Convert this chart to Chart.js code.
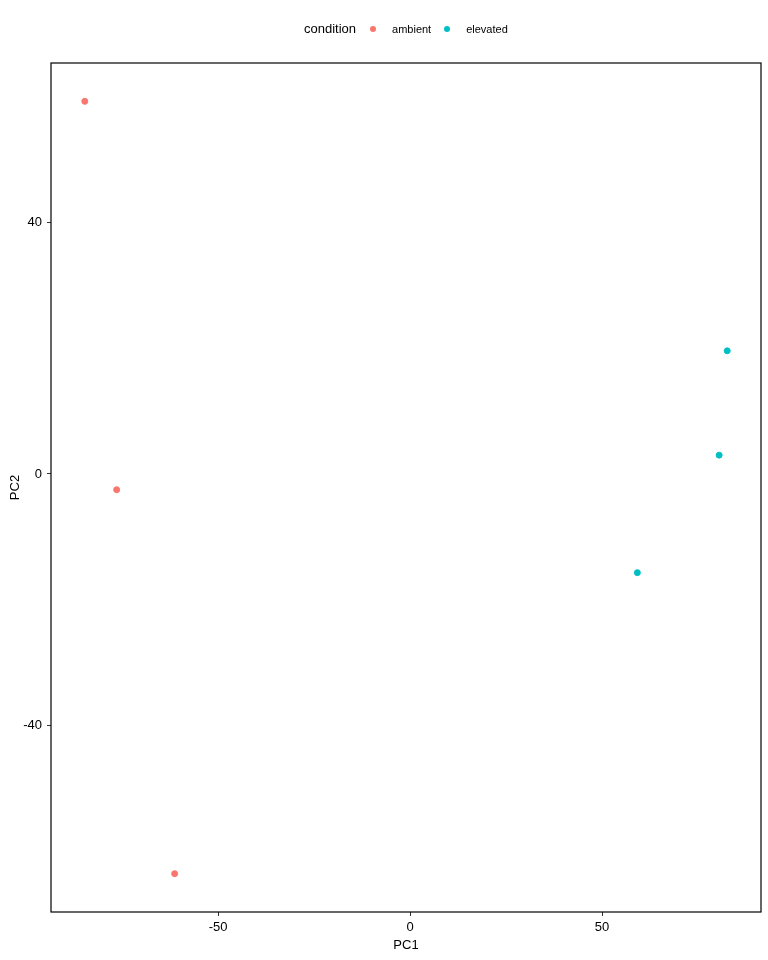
<!DOCTYPE html>
<html>
<head>
<meta charset="utf-8">
<script src="https://cdn.jsdelivr.net/npm/chart.js@4"></script>
<style>
  html, body { margin: 0; padding: 0; background: #fff; }
  #wrap { position: relative; width: 768px; height: 960px; }
  #legend { position: absolute; top: 19px; left: 304px; font-family: "Liberation Sans", Arial, sans-serif; color: #000; white-space: nowrap; }
  #legend span { display: inline-block; vertical-align: middle; }
  .ttl { font-size: 13px; margin-right: 14px; }
  .dot { width: 6px; height: 6px; border-radius: 50%; margin-right: 16px; }
  .lab { font-size: 11px; margin-right: 13px; }
</style>
</head>
<body>
<div id="wrap">
  <canvas id="chart-pca" width="768" height="960"></canvas>
  <div id="legend"></div>
</div>
<script>
// PCA scatter: PC1 vs PC2 by condition
const conditions = ['ambient', 'elevated'];
const colors = ['#F8766D', '#00BFC4'];
const pc1 = [[-84.7, -76.4, -61.3], [82.6, 80.5, 59.2]];
const pc2 = [[59.3, -2.5, -63.6], [19.6, 3.0, -15.7]];
const xTicks = [-50, 0, 50];
const yTicks = [-40, 0, 40];

const legendEl = document.getElementById('legend');
legendEl.innerHTML = '<span class="ttl">condition</span>' + conditions.map((c, i) =>
  `<span class="dot" style="background:${colors[i]}"></span><span class="lab">${c}</span>`).join('');

const boxPlugin = {
  id: 'box',
  afterDraw(chart) {
    const { ctx, chartArea: a } = chart;
    ctx.save();
    ctx.strokeStyle = '#000';
    ctx.lineWidth = 1.2;
    ctx.strokeRect(a.left, a.top, a.right - a.left, a.bottom - a.top);
    ctx.restore();
  }
};

const axisFont = { family: '"Liberation Sans", Arial, sans-serif', size: 13 };

new Chart(document.getElementById('chart-pca').getContext('2d'), {
  type: 'scatter',
  data: {
    datasets: conditions.map((c, i) => ({
      label: c,
      data: pc1[i].map((x, j) => ({ x, y: pc2[i][j] })),
      backgroundColor: colors[i],
      borderColor: colors[i],
      pointRadius: 3,
      pointHoverRadius: 3,
    })),
  },
  options: {
    responsive: false,
    animation: false,
    layout: { padding: { left: 0, right: 7, top: 63, bottom: 0 } },
    scales: {
      x: {
        type: 'linear',
        min: -93.5,
        max: 91.4,
        afterBuildTicks: s => { s.ticks = xTicks.map(v => ({ value: v })); },
        afterFit: s => { s.height = 48; },
        grid: { drawOnChartArea: false, drawTicks: true, tickLength: 4, color: '#333' },
        border: { display: false },
        ticks: { color: '#000', font: axisFont, padding: 4, maxRotation: 0 },
        title: { display: true, text: 'PC1', color: '#000', font: axisFont, padding: { top: 0, bottom: 7 } },
      },
      y: {
        type: 'linear',
        min: -69.7,
        max: 65.4,
        afterBuildTicks: s => { s.ticks = yTicks.map(v => ({ value: v })); },
        afterFit: s => { s.width = 51; },
        grid: { drawOnChartArea: false, drawTicks: true, tickLength: 4, color: '#333' },
        border: { display: false },
        ticks: { color: '#000', font: axisFont, padding: 5 },
        title: { display: true, text: 'PC2', color: '#000', font: axisFont, padding: { top: 8, bottom: 0 } },
      },
    },
    plugins: {
      legend: { display: false },
      tooltip: { enabled: false },
    },
  },
  plugins: [boxPlugin],
});
</script>
</body>
</html>
